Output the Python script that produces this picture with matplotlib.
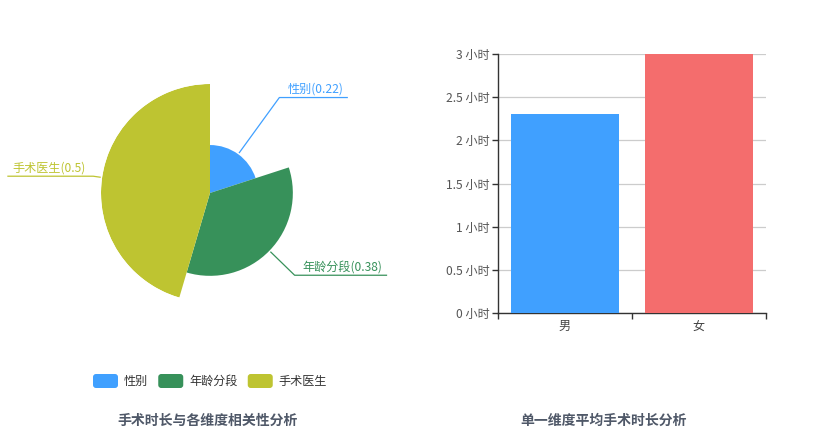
import matplotlib
matplotlib.use('Agg')
import matplotlib.pyplot as plt
import numpy as np
from matplotlib.patches import FancyBboxPatch

plt.rcParams['font.family'] = ['Noto Sans CJK SC', 'DejaVu Sans']

# ---------------- data ----------------
pie_labels = ['性别', '年龄分段', '手术医生']
pie_values = [0.22, 0.38, 0.5]
pie_colors = ['#40a0ff', '#37915a', '#bec431']

bar_categories = ['男', '女']
bar_values = [2.3, 3.0]
bar_colors = ['#40a0ff', '#f46d6d']
y_ticks = [0, 0.5, 1, 1.5, 2, 2.5, 3]
y_tick_labels = [f'{t:g} 小时' for t in y_ticks]

left_title = '手术时长与各维度相关性分析'
right_title = '单一维度平均手术时长分析'

# ---------------- figure ----------------
W, H = 820, 441
fig = plt.figure(figsize=(W / 100, H / 100), dpi=100)
fig.patch.set_facecolor('white')


def fx(px):
    return px / W


def fy(py):
    return 1 - py / H


# ---------------- rose pie ----------------
cx, cy, R = 210, 193, 109
pax = fig.add_axes([fx(cx - R), fy(cy + R), 2 * R / W, 2 * R / H], projection='polar')
pax.set_theta_zero_location('N')
pax.set_theta_direction(-1)
total = sum(pie_values)
widths = [2 * np.pi * v / total for v in pie_values]
starts = np.concatenate([[0], np.cumsum(widths)[:-1]])
pax.bar(starts, pie_values, width=widths, align='edge', color=pie_colors, linewidth=0)
pax.set_ylim(0, max(pie_values))
pax.set_axis_off()

# overlay in pixel coordinates
ov = fig.add_axes([0, 0, 1, 1], zorder=5)
ov.set_xlim(0, W)
ov.set_ylim(H, 0)
ov.axis('off')
ov.patch.set_alpha(0)

renderer = fig.canvas.get_renderer()
vmax = max(pie_values)
for lab, v, c, s, w in zip(pie_labels, pie_values, pie_colors, starts, widths):
    th = s + w / 2
    dx, dy = np.sin(th), -np.cos(th)
    r_i = R * v / vmax
    p0 = (cx + (r_i + 2) * dx, cy + (r_i + 2) * dy)
    p1 = (cx + 118 * dx, cy + 118 * dy)
    side = 1 if dx > 0 else -1
    t = ov.text(p1[0] + 8 * side, p1[1] - 2, f'{lab}({v:g})', color=c, fontsize=8.7,
                ha='left' if side > 0 else 'right', va='bottom')
    bb = t.get_window_extent(renderer=renderer)
    tw = bb.width
    p2 = (p1[0] + side * (tw + 12), p1[1])
    ov.plot([p0[0], p1[0], p2[0]], [p0[1], p1[1], p2[1]], color=c, lw=0.9)

# legend
lx = 93
for lab, c in zip(pie_labels, pie_colors):
    ov.add_patch(FancyBboxPatch((lx, 374), 25, 14, boxstyle='round,pad=0,rounding_size=3',
                                facecolor=c, edgecolor='none'))
    t = ov.text(lx + 31, 381.5, lab, fontsize=8.7, color='#333333', ha='left', va='center')
    bb = t.get_window_extent(renderer=renderer)
    lx = lx + 31 + bb.width + 10

# titles
ov.text(208, 421, left_title, fontsize=10, fontweight='bold', color='#4f5868',
        ha='center', va='center')
ov.text(604, 421, right_title, fontsize=10, fontweight='bold', color='#4f5868',
        ha='center', va='center')

# ---------------- bar chart ----------------
bax = fig.add_axes([fx(498), fy(313), (766 - 498) / W, (313 - 54) / H])
x = np.arange(len(bar_categories))
bax.bar(x, bar_values, width=0.8, color=bar_colors, zorder=3)
bax.set_xlim(-0.5, len(bar_categories) - 0.5)
bax.set_ylim(0, 3)
bax.set_yticks(y_ticks, y_tick_labels)
bax.set_xticks(x, bar_categories)
bax.set_xticks(np.arange(len(bar_categories) + 1) - 0.5, minor=True)
bax.tick_params(axis='x', which='major', length=0, pad=5, labelsize=8.7, labelcolor='#444444')
bax.tick_params(axis='x', which='minor', length=4, width=1, color='#333333')
bax.tick_params(axis='y', length=4, width=1, color='#333333', pad=2, labelsize=8.7,
                labelcolor='#555555')
bax.yaxis.grid(True, color='#cccccc', lw=0.9, zorder=0)
bax.set_axisbelow(True)
for sp in ['top', 'right']:
    bax.spines[sp].set_visible(False)
for sp in ['left', 'bottom']:
    bax.spines[sp].set_color('#333333')
    bax.spines[sp].set_linewidth(1)

fig.savefig('out.png', dpi=100, facecolor='white')
